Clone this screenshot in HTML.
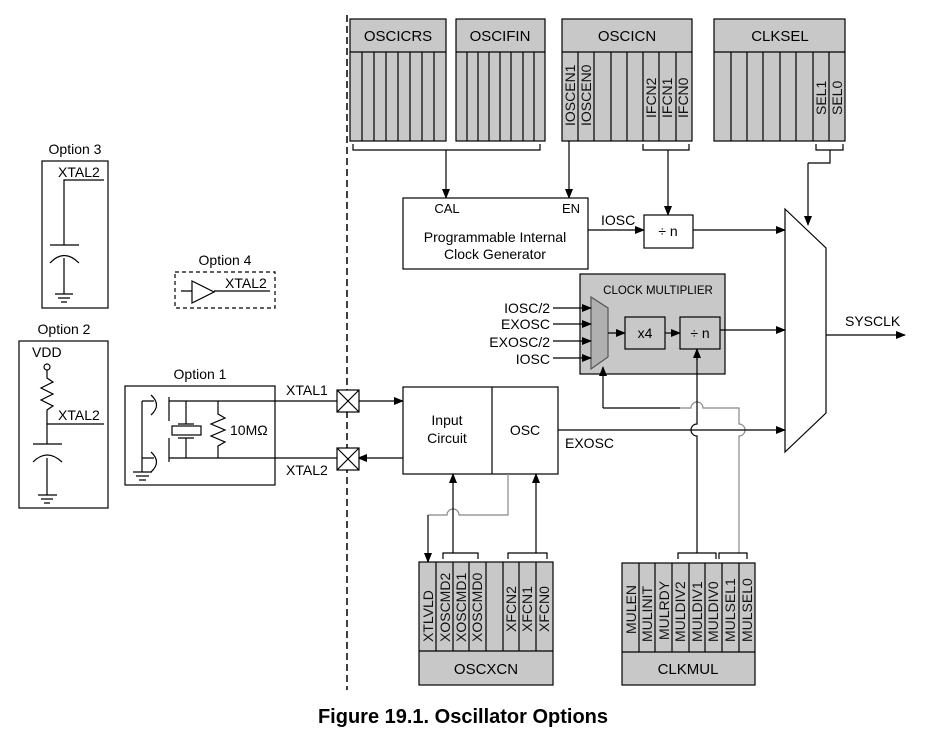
<!DOCTYPE html>
<html><head><meta charset="utf-8"><style>body{margin:0;background:#fff}svg{display:block;font-family:"Liberation Sans",sans-serif}</style></head><body>
<svg width="941" height="743" viewBox="0 0 941 743" xmlns="http://www.w3.org/2000/svg">
<defs><marker id="a" markerWidth="10" markerHeight="8" refX="9" refY="4" orient="auto" markerUnits="userSpaceOnUse"><path d="M0,0 L10,4 L0,8 z" fill="#000"/></marker></defs>
<g stroke="#000" stroke-width="1.2" fill="none">
<line x1="347" y1="15" x2="347" y2="690" stroke-dasharray="7,4" stroke-width="1.5"/>
<rect x="350" y="19" width="96" height="122" fill="#c8c8c8"/><line x1="350" y1="52" x2="446" y2="52"/>
<rect x="456" y="19" width="89" height="122" fill="#c8c8c8"/><line x1="456" y1="52" x2="545" y2="52"/>
<rect x="562" y="19" width="130" height="122" fill="#c8c8c8"/><line x1="562" y1="52" x2="692" y2="52"/>
<rect x="714" y="19" width="131" height="122" fill="#c8c8c8"/><line x1="714" y1="52" x2="845" y2="52"/>
<path d="M362,52V141M374,52V141M386,52V141M398,52V141M410,52V141M422,52V141M434,52V141"/>
<path d="M467,52V141M478,52V141M489,52V141M500,52V141M511,52V141M523,52V141M534,52V141"/>
<path d="M578,52V141M594,52V141M611,52V141M627,52V141M643,52V141M659,52V141M676,52V141"/>
<path d="M731,52V141M747,52V141M763,52V141M780,52V141M796,52V141M813,52V141M829,52V141"/>
<path d="M353,144V150H540V144"/><line x1="446" y1="150" x2="446" y2="198" marker-end="url(#a)"/>
<line x1="569" y1="141" x2="569" y2="198" marker-end="url(#a)"/>
<path d="M643,144V150H689V144"/><line x1="668" y1="150" x2="668" y2="215" marker-end="url(#a)"/>
<path d="M816,144V150H843V144"/><path d="M830,150V163H808"/><line x1="808" y1="163" x2="808" y2="225" marker-end="url(#a)"/>
<rect x="403" y="198" width="185" height="71" fill="#fff"/>
<line x1="588" y1="230" x2="644" y2="230" marker-end="url(#a)"/>
<rect x="644" y="215" width="49" height="33" fill="#fff"/>
<line x1="693" y1="230" x2="785" y2="230" marker-end="url(#a)"/>
<polygon points="785,209 826,248 826,413 785,452" fill="#fff"/>
<line x1="826" y1="335" x2="905" y2="335" marker-end="url(#a)"/>
<rect x="580" y="274" width="145" height="100" fill="#c8c8c8"/>
<polygon points="591,297 608,308 608,357 591,369" fill="#b0b0b0" stroke="#555"/>
<line x1="553" y1="308" x2="591" y2="308" marker-end="url(#a)"/>
<line x1="553" y1="324" x2="591" y2="324" marker-end="url(#a)"/>
<line x1="553" y1="341" x2="591" y2="341" marker-end="url(#a)"/>
<line x1="553" y1="358" x2="591" y2="358" marker-end="url(#a)"/>
<line x1="608" y1="333" x2="625" y2="333" marker-end="url(#a)"/>
<rect x="625" y="317" width="40" height="32" fill="#c8c8c8"/>
<line x1="665" y1="333" x2="680" y2="333" marker-end="url(#a)"/>
<rect x="680" y="317" width="40" height="32" fill="#c8c8c8"/>
<line x1="720" y1="330" x2="785" y2="330" marker-end="url(#a)"/>
<line x1="603" y1="408" x2="603" y2="367" marker-end="url(#a)"/>
<path d="M603,408H680"/>
<path d="M680,408H691A6,6 0 0 1 703,408H739V424A6,6 0 0 1 739,436V553" stroke="#888"/>
<path d="M697,553V436A6,6 0 0 1 697,424V355"/>
<line x1="697" y1="360" x2="697" y2="349" marker-end="url(#a)"/>
<rect x="403" y="387" width="155" height="87" fill="#fff"/><line x1="492" y1="387" x2="492" y2="474"/>
<line x1="558" y1="430" x2="785" y2="430" marker-end="url(#a)"/>
<line x1="358" y1="401" x2="403" y2="401" marker-end="url(#a)"/>
<line x1="403" y1="458" x2="358" y2="458" marker-end="url(#a)"/>
<rect x="337" y="390" width="22" height="22" fill="#fff"/><path d="M337,390L359,412M359,390L337,412"/>
<rect x="337" y="448" width="22" height="22" fill="#fff"/><path d="M337,448L359,470M359,448L337,470"/>
<line x1="275" y1="401" x2="337" y2="401"/><line x1="275" y1="458" x2="337" y2="458"/>
<rect x="419" y="562" width="134" height="123" fill="#c8c8c8"/><line x1="419" y1="651" x2="553" y2="651"/>
<path d="M436,562V651M453,562V651M469,562V651M486,562V651M503,562V651M519,562V651M536,562V651"/>
<path d="M508,474V515H459A6,6 0 0 0 447,515H428" stroke="#888"/><line x1="428" y1="515" x2="428" y2="562" marker-end="url(#a)"/>
<path d="M443,559V553H478V559"/><line x1="453" y1="553" x2="453" y2="474" marker-end="url(#a)"/>
<path d="M508,559V553H547V559"/><line x1="536" y1="553" x2="536" y2="474" marker-end="url(#a)"/>
<rect x="622" y="563" width="133" height="122" fill="#c8c8c8"/><line x1="622" y1="652" x2="755" y2="652"/>
<path d="M639,563V652M655,563V652M672,563V652M689,563V652M705,563V652M722,563V652M739,563V652"/>
<path d="M678,559V553H716V559M719,559V553H747V559"/>
<rect x="42" y="161" width="66" height="147"/>
<path d="M104,180H64V245M50,245H79M64,258V294M55,294H73M58,298H70M61,302H67"/>
<path d="M50,263Q64,248 79,263"/>
<rect x="19" y="341" width="89" height="167"/>
<circle cx="47" cy="367" r="3" fill="#fff"/>
<path d="M47,370V378L53,382L41,388L53,394L41,400L53,406L47,410V444M47,424H104M33,444H62M47,458V495M38,495H57M41,499H53M44,503H50"/>
<path d="M33,462Q47,448 62,462"/>
<rect x="175" y="272" width="100" height="36" stroke-dasharray="4,3"/>
<path d="M181,291H192M192,281V303L214,292ZM214,291H270"/>
<rect x="125" y="386" width="150" height="99"/>
<path d="M142,401V465M142,401H154M142,458H154M169,397V421M169,438V462M169,401H275M169,458H275M186,401V424M186,438V458M178,424H194M178,438H194M218,401V414L225,418L211,424L225,430L211,436L225,442L218,446V458M133,472H152M136,476H149M139,480H146M142,465V472"/>
<rect x="172" y="426" width="29" height="9"/>
<path d="M151,395Q162,405 151,415M151,452Q162,462 151,472"/>
</g>
<g font-size="14" fill="#000">
<text x="398" y="41" text-anchor="middle" font-size="15">OSCICRS</text>
<text x="500" y="41" text-anchor="middle" font-size="15">OSCIFIN</text>
<text x="627" y="41" text-anchor="middle" font-size="15">OSCICN</text>
<text x="780" y="41" text-anchor="middle" font-size="15">CLKSEL</text>
<g font-size="14" fill="#111">
<text transform="translate(575,126) rotate(-90)">IOSCEN1</text>
<text transform="translate(591,126) rotate(-90)">IOSCEN0</text>
<text transform="translate(656,118) rotate(-90)">IFCN2</text>
<text transform="translate(672,118) rotate(-90)">IFCN1</text>
<text transform="translate(688,118) rotate(-90)">IFCN0</text>
<text transform="translate(826,115) rotate(-90)">SEL1</text>
<text transform="translate(842,115) rotate(-90)">SEL0</text>
<text transform="translate(433,642) rotate(-90)">XTLVLD</text>
<text transform="translate(450,642) rotate(-90)">XOSCMD2</text>
<text transform="translate(466,642) rotate(-90)">XOSCMD1</text>
<text transform="translate(482,642) rotate(-90)">XOSCMD0</text>
<text transform="translate(516,632) rotate(-90)">XFCN2</text>
<text transform="translate(532,632) rotate(-90)">XFCN1</text>
<text transform="translate(549,632) rotate(-90)">XFCN0</text>
<text transform="translate(636,634) rotate(-90)">MULEN</text>
<text transform="translate(652,642) rotate(-90)">MULINIT</text>
<text transform="translate(669,640) rotate(-90)">MULRDY</text>
<text transform="translate(685,642) rotate(-90)">MULDIV2</text>
<text transform="translate(702,642) rotate(-90)">MULDIV1</text>
<text transform="translate(718,642) rotate(-90)">MULDIV0</text>
<text transform="translate(735,642) rotate(-90)">MULSEL1</text>
<text transform="translate(752,642) rotate(-90)">MULSEL0</text>
</g>
<text x="447" y="213" text-anchor="middle" font-size="13">CAL</text>
<text x="571" y="213" text-anchor="middle" font-size="13">EN</text>
<text x="495" y="242" text-anchor="middle">Programmable Internal</text>
<text x="495" y="259" text-anchor="middle">Clock Generator</text>
<text x="601" y="225">IOSC</text>
<text x="668" y="236" text-anchor="middle">÷ n</text>
<text x="845" y="326">SYSCLK</text>
<text x="658" y="294" text-anchor="middle" font-size="11.5">CLOCK MULTIPLIER</text>
<text x="550" y="313" text-anchor="end">IOSC/2</text>
<text x="550" y="329" text-anchor="end">EXOSC</text>
<text x="550" y="347" text-anchor="end">EXOSC/2</text>
<text x="550" y="364" text-anchor="end">IOSC</text>
<text x="645" y="338" text-anchor="middle">x4</text>
<text x="700" y="338" text-anchor="middle">÷ n</text>
<text x="447" y="425" text-anchor="middle">Input</text>
<text x="447" y="443" text-anchor="middle">Circuit</text>
<text x="525" y="435" text-anchor="middle">OSC</text>
<text x="565" y="448">EXOSC</text>
<text x="286" y="395">XTAL1</text>
<text x="286" y="475">XTAL2</text>
<text x="486" y="674" text-anchor="middle" font-size="15">OSCXCN</text>
<text x="688" y="674" text-anchor="middle" font-size="15">CLKMUL</text>
<text x="75" y="154" text-anchor="middle">Option 3</text>
<text x="58" y="177">XTAL2</text>
<text x="64" y="334" text-anchor="middle">Option 2</text>
<text x="32" y="357">VDD</text>
<text x="58" y="420">XTAL2</text>
<text x="225" y="265" text-anchor="middle">Option 4</text>
<text x="225" y="288">XTAL2</text>
<text x="200" y="379" text-anchor="middle">Option 1</text>
<text x="230" y="435">10MΩ</text>
<text x="463" y="723" text-anchor="middle" font-size="20" font-weight="bold">Figure 19.1. Oscillator Options</text>
</g>
</svg>
</body></html>
